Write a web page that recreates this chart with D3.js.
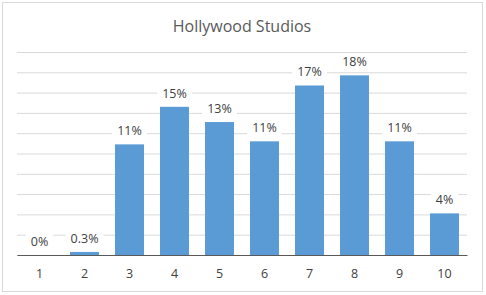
<!DOCTYPE html>
<html>
<head>
    <meta charset="utf-8">
    <script src="https://cdn.jsdelivr.net/npm/d3@7"></script>
    <style>
        body { margin: 0; background: #fff; }
        text { font-family: "Open Sans", sans-serif; }
    </style>
</head>
<body>
    <div id="chart"></div>
    <script>
        const categories = ["1", "2", "3", "4", "5", "6", "7", "8", "9", "10"];
        const values = [0, 0.3, 10.9, 14.6, 13.1, 11.2, 16.7, 17.7, 11.2, 4.1];
        const labels = ["0%", "0.3%", "11%", "15%", "13%", "11%", "17%", "18%", "11%", "4%"];
        const yTicks = [0, 2, 4, 6, 8, 10, 12, 14, 16, 18, 20];

        const W = 486, H = 295;
        const margin = {top: 52, right: 19, bottom: 40, left: 17};
        const width = W - margin.left - margin.right;
        const height = H - margin.top - margin.bottom;

        const svg = d3.select("#chart").append("svg")
            .attr("width", W).attr("height", H);

        // chart frame
        svg.append("rect")
            .attr("x", 2.5).attr("y", 2.5)
            .attr("width", 480).attr("height", 289)
            .attr("fill", "#fff").attr("stroke", "#d9d9d9");

        svg.append("text")
            .attr("x", 242).attr("y", 32)
            .attr("text-anchor", "middle")
            .attr("font-size", 16)
            .attr("fill", "#595959")
            .text("Hollywood Studios");

        const g = svg.append("g").attr("transform", `translate(${margin.left},${margin.top})`);

        const x = d3.scaleBand().domain(categories).range([0, width]).paddingInner(0.356).paddingOuter(0.178);
        const y = d3.scaleLinear().domain([0, 20]).range([height, 0]);

        g.append("g")
            .call(d3.axisLeft(y).tickValues(yTicks).tickSize(-width).tickFormat(""))
            .call(s => s.select(".domain").remove())
            .call(s => s.selectAll(".tick line").attr("stroke", "#d9d9d9"));

        g.selectAll(".bar").data(values).join("rect")
            .attr("class", "bar")
            .attr("x", (d, i) => x(categories[i]))
            .attr("y", d => y(d))
            .attr("width", x.bandwidth())
            .attr("height", d => height - y(d))
            .attr("fill", "#5b9bd5");

        const lab = g.selectAll(".lab").data(values).join("g")
            .attr("class", "lab")
            .attr("transform", (d, i) => `translate(${x(categories[i]) + x.bandwidth() / 2},${y(d) - 9})`);
        lab.append("text")
            .attr("text-anchor", "middle")
            .attr("font-size", 12.5)
            .attr("fill", "#404040")
            .text((d, i) => labels[i]);
        // white box behind labels, cuts the gridlines like the original
        lab.each(function() {
            const t = d3.select(this).select("text");
            const b = t.node().getBBox();
            d3.select(this).insert("rect", "text")
                .attr("x", b.x - 5).attr("y", b.y)
                .attr("width", b.width + 10).attr("height", b.height)
                .attr("fill", "#fff");
        });

        g.append("g")
            .attr("transform", `translate(0,${height})`)
            .call(d3.axisBottom(x).tickSize(0).tickPadding(14))
            .call(s => s.select(".domain").attr("stroke", "#595959"))
            .call(s => s.selectAll(".tick text")
                .attr("font-family", "Open Sans, sans-serif")
                .attr("font-size", 12.5)
                .attr("fill", "#404040"));
    </script>
</body>
</html>
